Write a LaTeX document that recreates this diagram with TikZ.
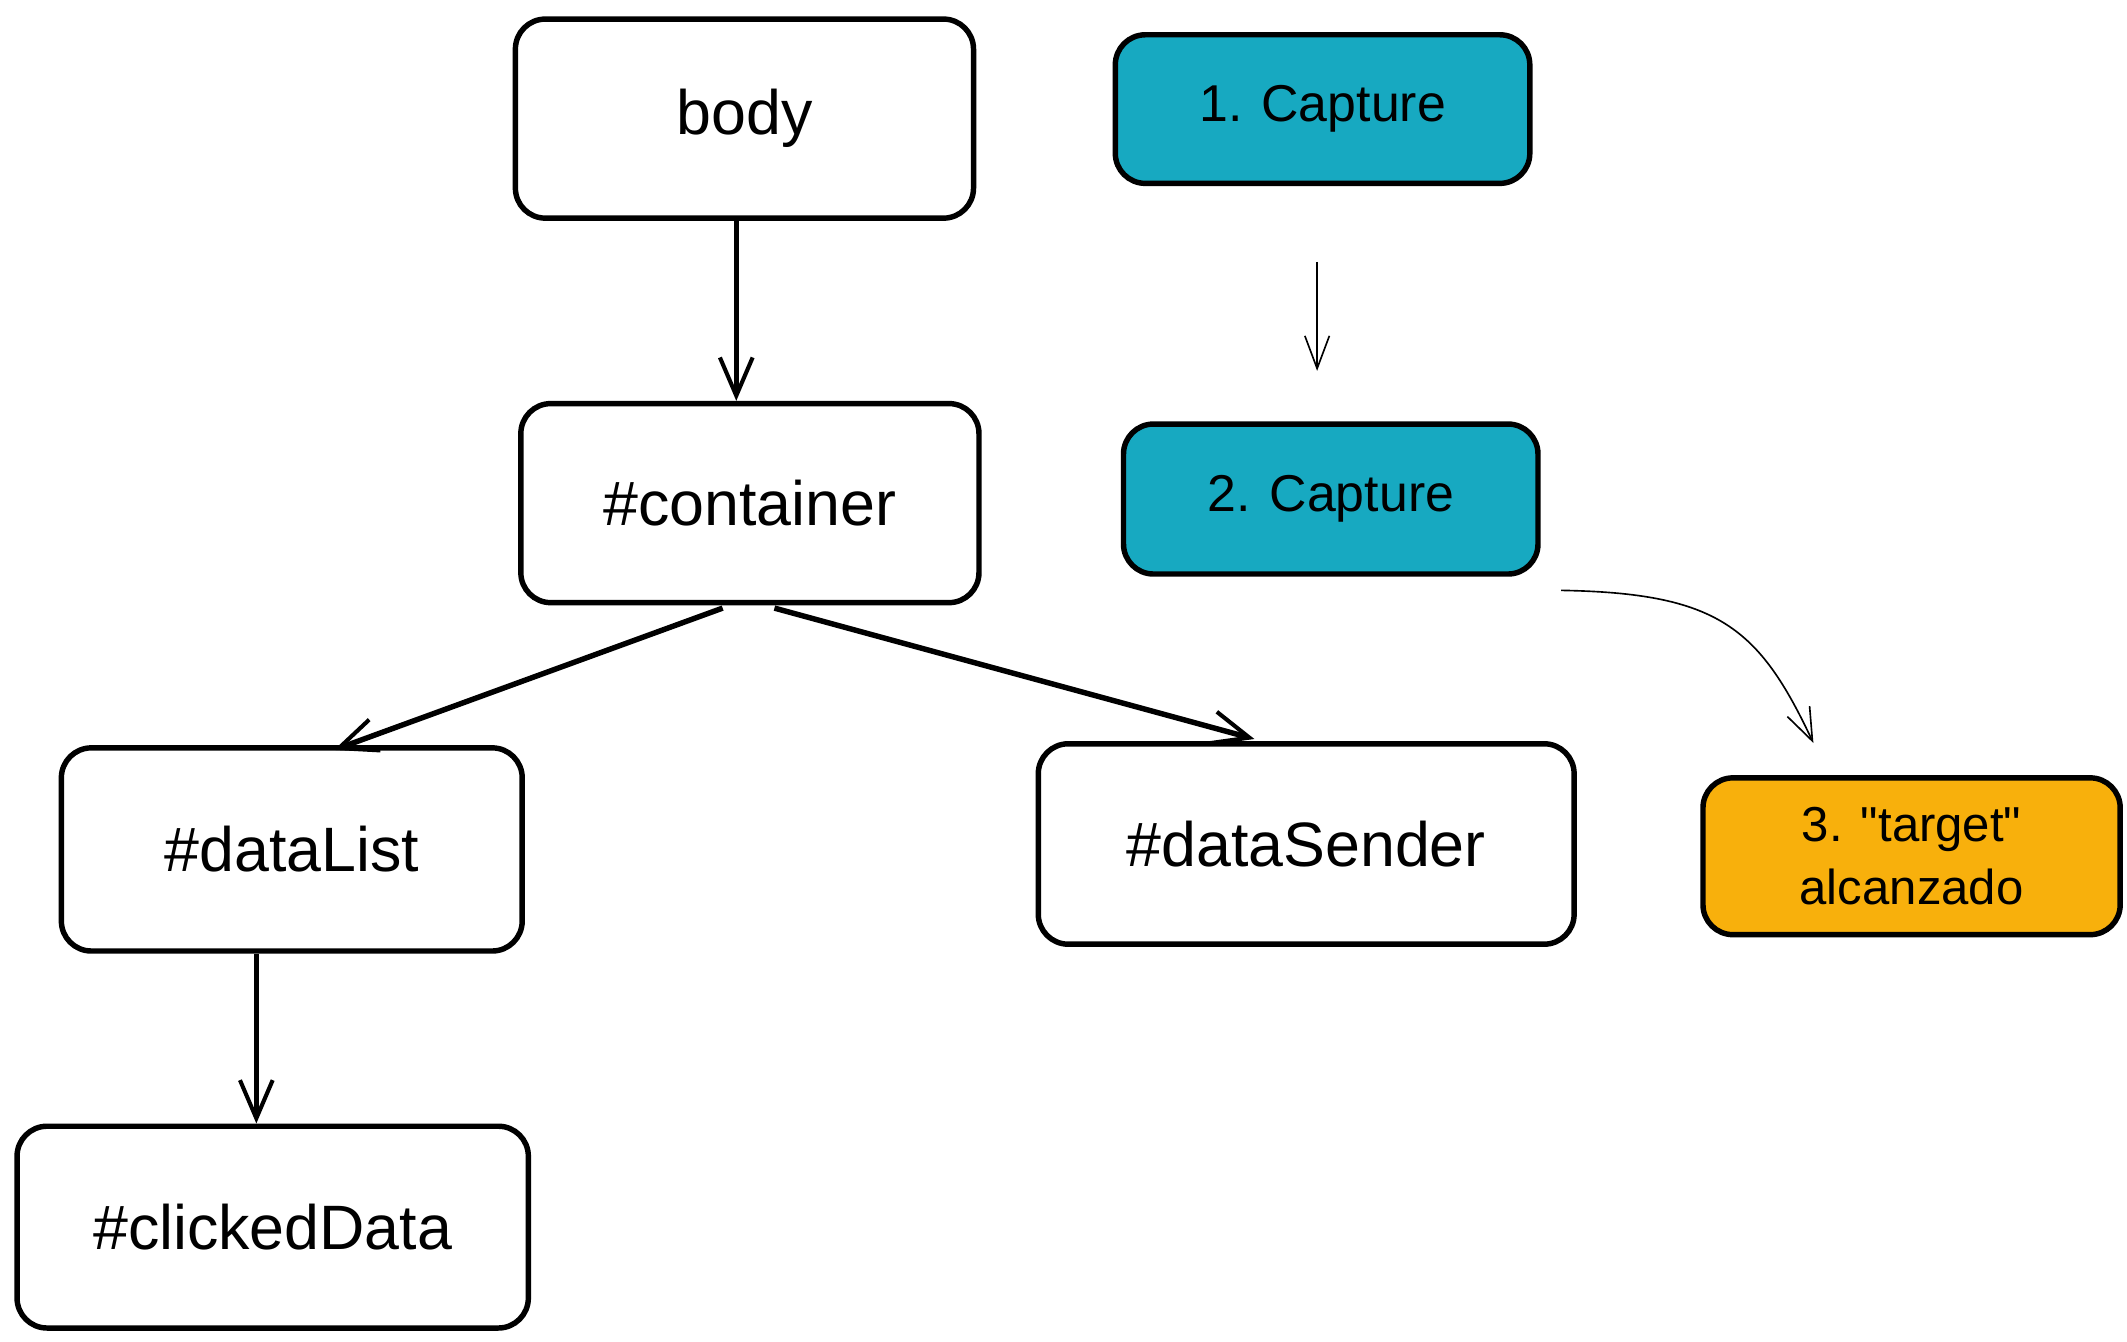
\documentclass[tikz,border=0pt]{standalone}
\usepackage{fontspec}
\setmainfont{Liberation Sans}
\usetikzlibrary{arrows.meta}
\definecolor{teal1}{HTML}{17A9C1}
\definecolor{amber}{HTML}{F8B00C}
\begin{document}
\begin{tikzpicture}[x=1pt,y=-1pt,
  box/.style={draw=black,line width=4pt,rounded corners=22pt,inner sep=0pt,font=\fontsize{46}{52}\selectfont},
  conn/.style={line width=4pt,-{Straight Barb[length=28pt,width=24pt,line width=3pt]}},
  thin/.style={line width=1.2pt,-{Straight Barb[length=24pt,width=18pt,line width=1.2pt]}}]
\useasboundingbox (0,0) rectangle (1560,984);
\node[box,minimum width=336pt,minimum height=146pt] (body) at (546,87) {body};
\node[box,fill=teal1,minimum width=304pt,minimum height=109pt,font=\fontsize{38}{44}\selectfont] (c1) at (970,80) {1. Capture};
\node[box,minimum width=336pt,minimum height=146pt] (cont) at (550,369) {\#container};
\node[box,fill=teal1,minimum width=304pt,minimum height=110pt,font=\fontsize{38}{44}\selectfont] (c2) at (976,366) {2. Capture};
\node[box,minimum width=338pt,minimum height=149pt] (dl) at (214,623) {\#dataList};
\node[box,minimum width=393pt,minimum height=147pt] (ds) at (958,619) {\#dataSender};
\node[box,fill=amber,minimum width=306pt,minimum height=115pt,align=center,font=\fontsize{36}{46}\selectfont] (t) at (1402,628) {3. \textquotedbl target\textquotedbl\\alcanzado};
\node[box,minimum width=375pt,minimum height=148pt] (cd) at (200,900) {\#clickedData};
\draw[conn] (body.south -| 540,0) -- (cont.north -| 540,0);
\draw[conn] (530,446) -- (245,550);
\draw[conn] (568,446) -- (920,542);
\draw[conn] (dl.south -| 188,0) -- (cd.north -| 188,0);
\coordinate (a1) at (966,192); \coordinate (a2) at (966,272);
\draw[thin] (a1) -- (a2);
\coordinate (b1) at (1145,433); \coordinate (b2) at (1330,545);
\draw[thin] (b1) .. controls (1260,435) and (1290,460) .. (b2);
\end{tikzpicture}
\end{document}
